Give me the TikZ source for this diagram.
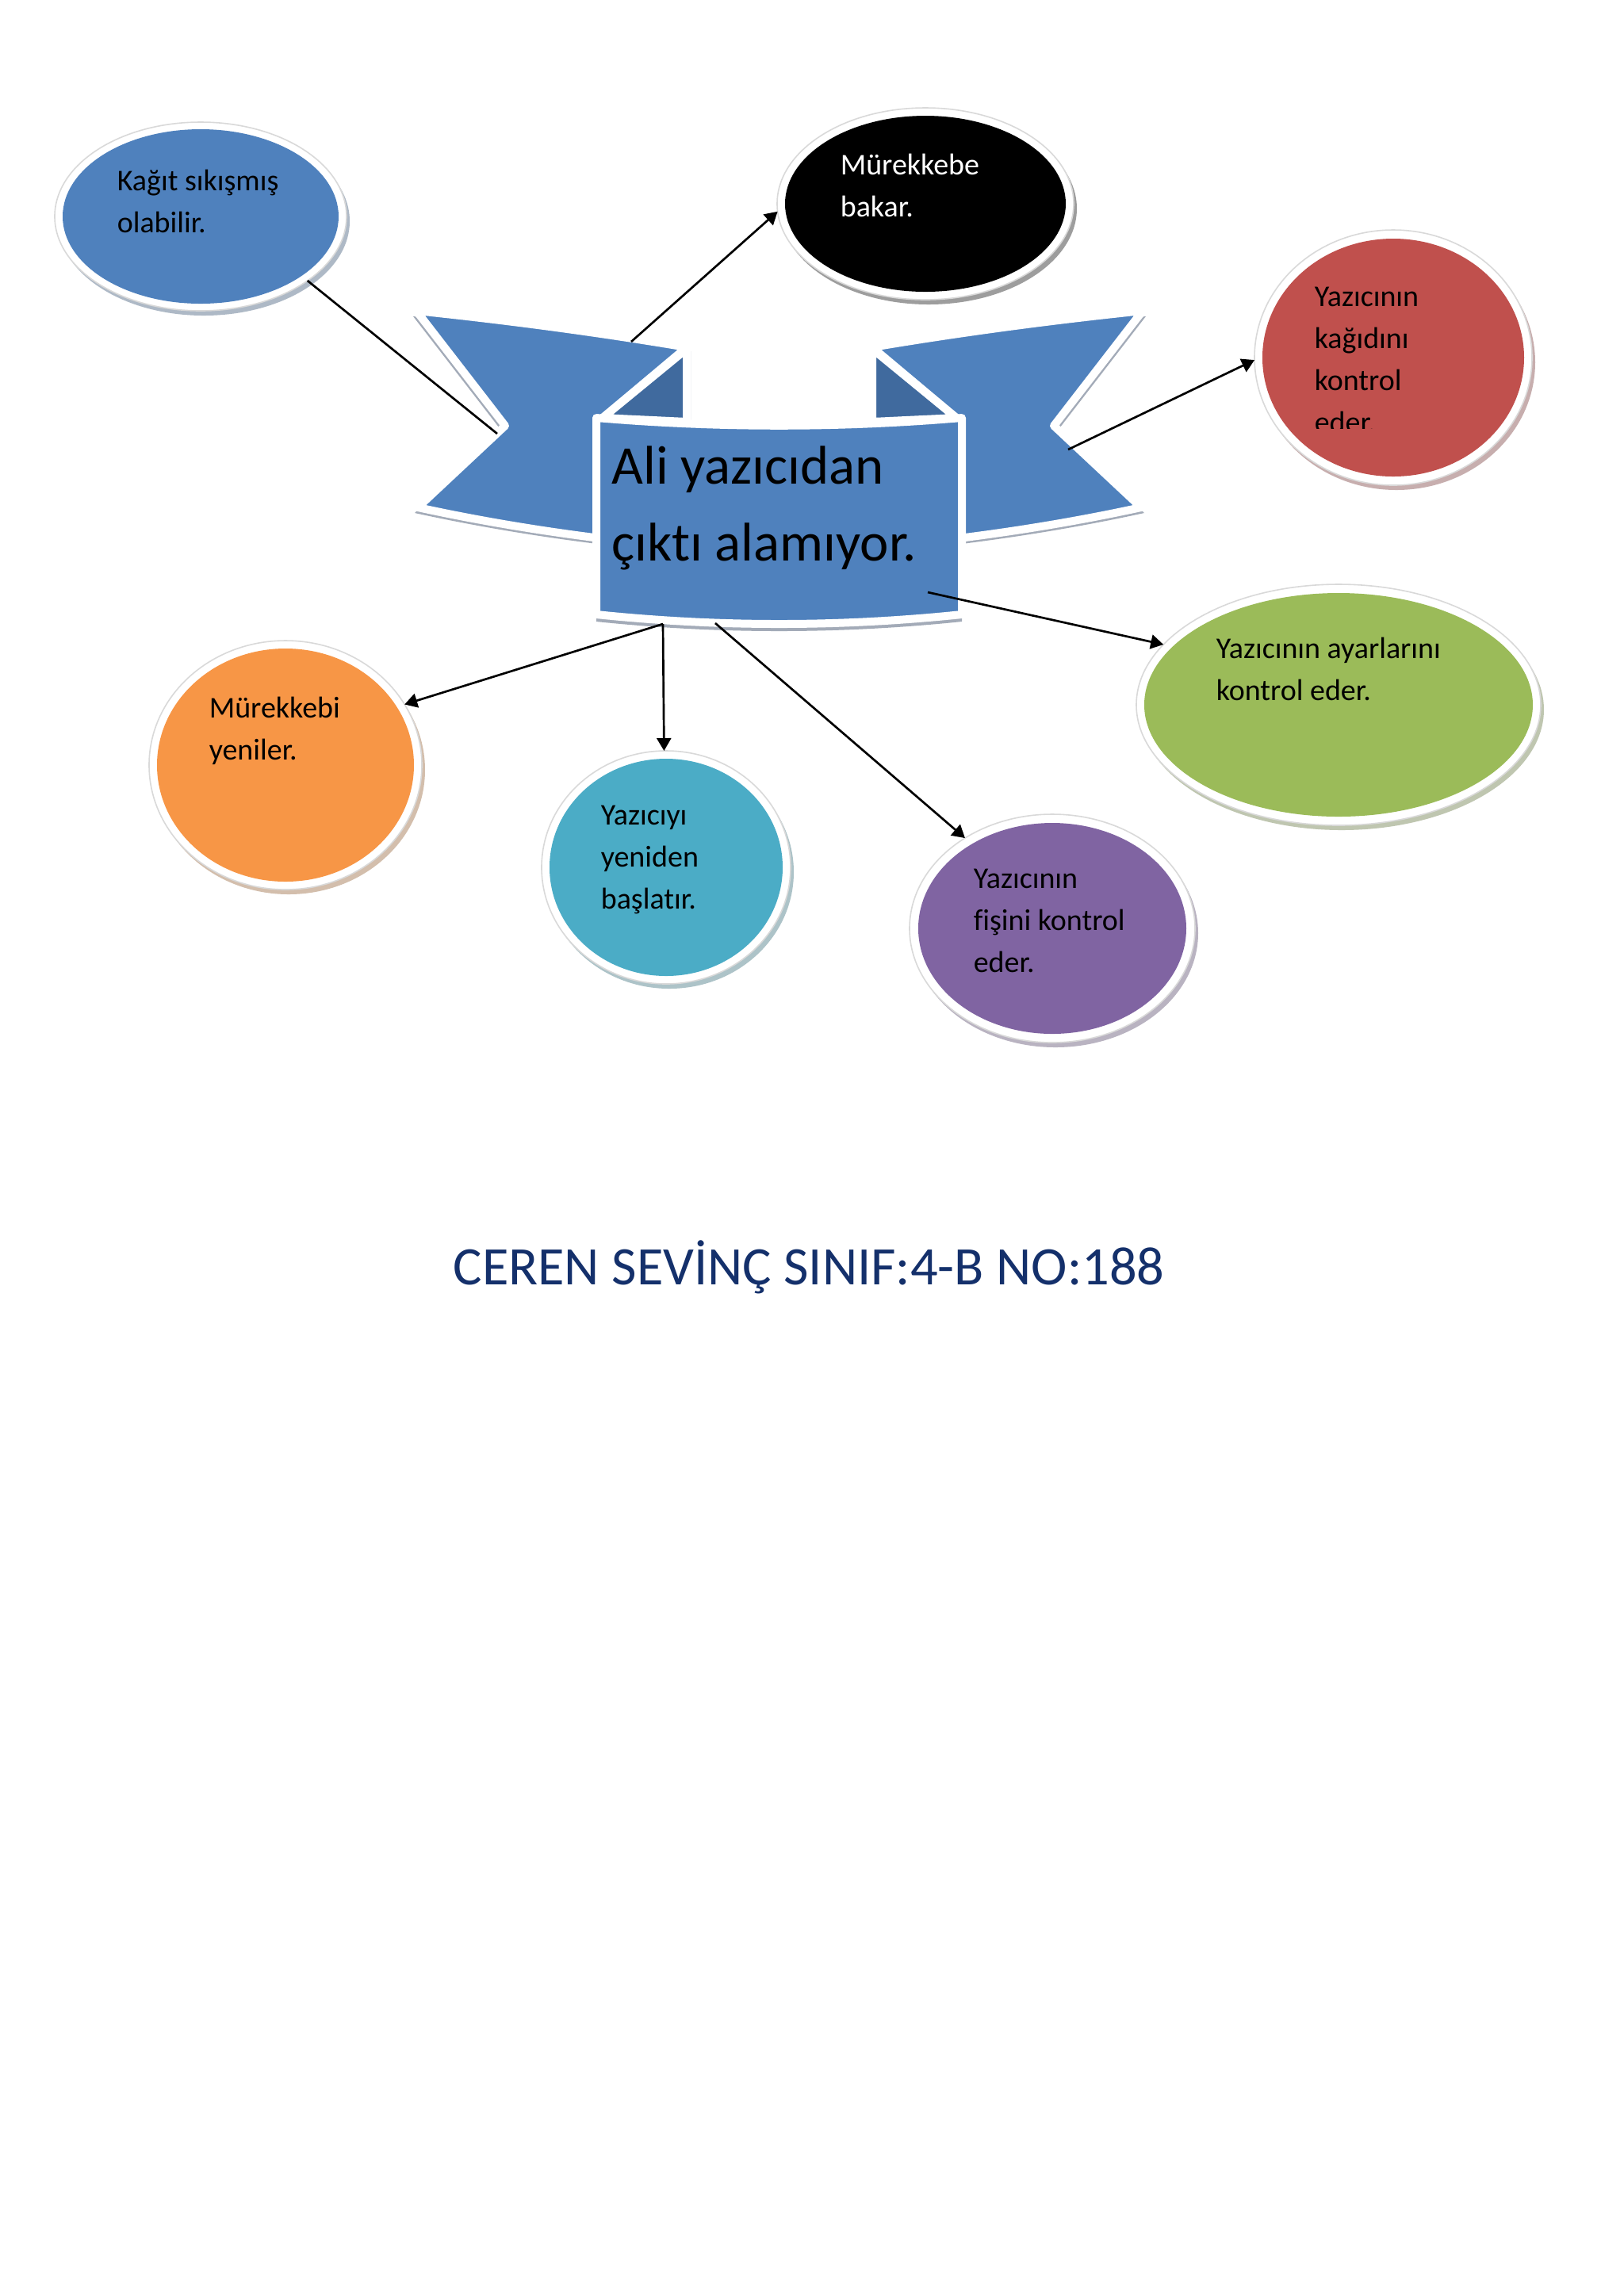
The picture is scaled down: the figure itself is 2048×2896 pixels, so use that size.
\documentclass[tikz,border=0pt]{standalone}
\usepackage{fontspec}
\setmainfont{Carlito}[Ligatures={NoCommon,NoContextual}]
\usetikzlibrary{arrows.meta,shapes.geometric}
\definecolor{obl}{HTML}{4F81BD}
\definecolor{ored}{HTML}{C0504D}
\definecolor{oorange}{HTML}{F79646}
\definecolor{ogreen}{HTML}{9BBB59}
\definecolor{oteal}{HTML}{4BACC6}
\definecolor{opurple}{HTML}{8064A2}
\definecolor{ofold}{HTML}{406A9E}
\definecolor{onavy}{HTML}{14306B}
\definecolor{bshad}{HTML}{A3ABB8}
\tikzset{
  ring/.style={shape=ellipse, fill=white, draw=gray!30, line width=0.4pt, inner sep=0pt, outer sep=0pt},
  txt/.style={anchor=base west, inner sep=0pt, font=\fontsize{9.5pt}{13.3pt}\selectfont},
  bigtxt/.style={anchor=base west, inner sep=0pt, font=\fontsize{17.2pt}{24.25pt}\selectfont},
  wingfill/.style={fill=obl, draw=white, line width=2.5pt, line join=round},
  foldfill/.style={fill=ofold, draw=white, line width=2.5pt, line join=round},
  arr/.style={draw=black, line width=0.67pt, -{Triangle[length=4pt,width=4.5pt]}},
  ln/.style={draw=black, line width=0.67pt}
}
\newcommand\mybubble[8]{%
  \fill[#6!40!gray!55, shift={(4,6)}] (#2,#3) ellipse [x radius=#4, y radius=#5];
  \node[ring, minimum width={2*#4*0.25pt}, minimum height={2*#5*0.25pt}] (#1) at (#2,#3) {};
  \fill[#6] (#2,#3) ellipse [x radius=#7, y radius=#8];
}
\def\leftwing{(525,392) .. controls (640,404) and (753,419) .. (866,438) -- (760,527) -- (800,560) -- (800,684) .. controls (709,674) and (619,660) .. (527,640) -- (637,537) -- cycle}
\def\leftfold{(866,440) -- (866,532) -- (760,527) -- cycle}
\def\centerpanel{(752,527) .. controls (906,540) and (1059,540) .. (1213,527) -- (1213,775) .. controls (1059,791) and (906,791) .. (752,775) -- cycle}
\begin{document}
\begin{tikzpicture}[x=0.25pt,y=-0.25pt]
\useasboundingbox[fill=white] (0,0) rectangle (2048,2896);

% banner wings
\fill[bshad, shift={(-4,7)}] \leftwing;
\draw[wingfill] \leftwing;
\begin{scope}[shift={(1966,0)}, xscale=-1]
  \fill[bshad, shift={(-4,7)}] \leftwing;
  \draw[wingfill] \leftwing;
\end{scope}
\fill[bshad, shift={(5,3)}] \leftfold;
\draw[foldfill] \leftfold;
\begin{scope}[shift={(1966,0)}, xscale=-1]
  \fill[bshad, shift={(5,3)}] \leftfold;
  \draw[foldfill] \leftfold;
\end{scope}
\fill[bshad, shift={(0,9)}] \centerpanel;
\draw[wingfill] \centerpanel;

\node[bigtxt] (main) at (771,610) {\vtop{\hbox{Ali yazıcıdan}\hbox{çıktı alamıyor.}}};

% banner connection points
\coordinate (bL) at (627,547);
\coordinate (bT) at (796,431);
\coordinate (bR) at (1347,567);
\coordinate (bG) at (1170,747);
\coordinate (bB) at (836,787);
\coordinate (bP) at (902,786);

% bubbles
\mybubble{kagit}{253}{273}{184}{119}{obl}{174}{110}
\mybubble{murek}{1167}{257}{187}{121}{black}{177}{111}
\mybubble{kagidini}{1757}{451}{175}{161}{ored}{165}{150}
\mybubble{yenile}{360}{965}{172}{157}{oorange}{162}{147}
\mybubble{ayar}{1688}{889}{255}{152}{ogreen}{245}{141}
\mybubble{yeniden}{840}{1094}{157}{147}{oteal}{147}{137}
\mybubble{fis}{1327}{1171}{180}{144}{opurple}{169}{133}

% bubble texts
\node[txt] (kagit-t) at (147,240) {\vtop{\hbox{Kağıt sıkışmış}\hbox{olabilir.}}};
\node[txt, text=white] (murek-t) at (1059,220) {\vtop{\hbox{Mürekkebe}\hbox{bakar.}}};
\begin{scope}
  \clip (1600,300) rectangle (1930,540);
  \node[txt] (kagidini-t) at (1657,386) {\vtop{\hbox{Yazıcının}\hbox{kağıdını}\hbox{kontrol}\hbox{eder.}}};
\end{scope}
\node[txt] (yenile-t) at (263,905) {\vtop{\hbox{Mürekkebi}\hbox{yeniler.}}};
\node[txt] (ayar-t) at (1533,830) {\vtop{\hbox{Yazıcının ayarlarını}\hbox{kontrol eder.}}};
\node[txt] (yeniden-t) at (757,1040) {\vtop{\hbox{Yazıcıyı}\hbox{yeniden}\hbox{başlatır.}}};
\node[txt] (fis-t) at (1227,1120) {\vtop{\hbox{Yazıcının}\hbox{fişini kontrol}\hbox{eder.}}};

% connectors
\draw[ln] (bL) -- (kagit.-31.5);
\draw[arr] (bT) -- (murek.183);
\draw[arr] (bR) -- (kagidini.181);
\draw[arr] (bG) -- (ayar.161.4);
\draw[arr] (bB) -- (yenile.27);
\draw[arr] (bB) -- (yeniden.91.7);
\draw[arr] (bP) -- (fis.134);

% signature
\node[anchor=base, inner sep=0pt, text=onavy, font=\fontsize{17.1pt}{20pt}\selectfont] (sig) at (1020,1620) {CEREN SEVİNÇ SINIF:4-B NO:188};
\end{tikzpicture}
\end{document}
